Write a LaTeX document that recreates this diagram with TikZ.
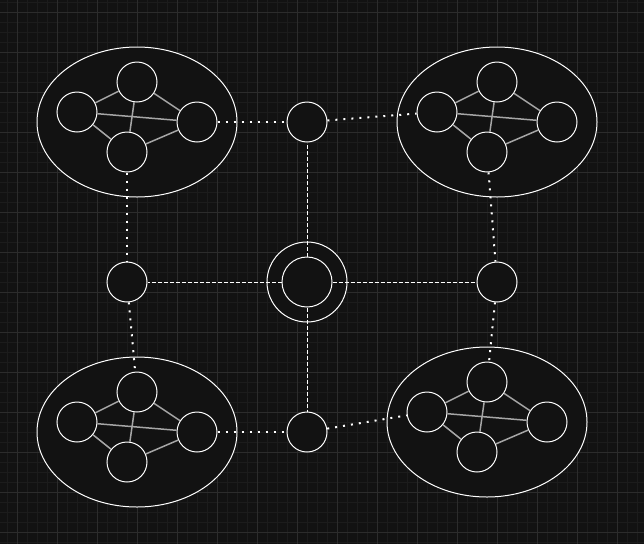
\documentclass[tikz,border=0pt]{standalone}
\usetikzlibrary{shapes}
\definecolor{bgdark}{HTML}{121212}
\definecolor{gridmajor}{HTML}{2C2C2C}
\definecolor{gridminor}{HTML}{1C1C1C}
\definecolor{linkgray}{HTML}{A6A6A6}
\tikzstyle{peer} = [draw=white, fill=bgdark, circle, line width=1pt,
                    minimum size=40pt, inner sep=0pt]
\tikzstyle{group} = [draw=white, fill=bgdark, ellipse, line width=1pt,
                     minimum width=200pt, minimum height=150pt, inner sep=0pt]
\tikzstyle{link} = [draw=linkgray, line width=1.5pt]
\tikzstyle{bridge} = [draw=white, line width=2pt, dash pattern=on 2pt off 6pt]
\tikzstyle{spoke} = [draw=white, line width=1pt, dash pattern=on 4pt off 2pt]
\begin{document}
\begin{tikzpicture}[x=1pt, y=-1pt]
  % background and grid
  \fill[bgdark] (0,0) rectangle (644,544);
  \useasboundingbox (0,0) rectangle (644,544);
  \foreach \x in {7,17,...,637} \draw[gridminor] (\x,0) -- (\x,544);
  \foreach \y in {2,12,...,542} \draw[gridminor] (0,\y) -- (644,\y);
  \foreach \x in {17,57,...,617} \draw[gridmajor] (\x,0) -- (\x,544);
  \foreach \y in {12,52,...,532} \draw[gridmajor] (0,\y) -- (644,\y);

  % four clusters
  \foreach \g/\cx/\cy in {tl/137/122, tr/497/122, bl/137/432, br/487/422} {
    \node[group] (\g) at (\cx,\cy) {};
    \node[peer] (\g a) at (\cx-60,\cy-10) {};
    \node[peer] (\g b) at (\cx,\cy-40) {};
    \node[peer] (\g c) at (\cx+60,\cy) {};
    \node[peer] (\g d) at (\cx-10,\cy+30) {};
    \draw[link] (\g a) -- (\g b);
    \draw[link] (\g b) -- (\g c);
    \draw[link] (\g a) -- (\g c);
    \draw[link] (\g b) -- (\g d);
    \draw[link] (\g a) -- (\g d);
    \draw[link] (\g d) -- (\g c);
  }

  % relays and hub
  \node[peer] (top) at (307,122) {};
  \node[peer] (left) at (127,282) {};
  \node[peer] (right) at (497,282) {};
  \node[peer] (bottom) at (307,432) {};
  \node[peer, minimum size=80pt] (ring) at (307,282) {};
  \node[peer, minimum size=50pt] (hub) at (307,282) {};

  \draw[spoke] (hub) -- (top);
  \draw[spoke] (hub) -- (left);
  \draw[spoke] (hub) -- (right);
  \draw[spoke] (hub) -- (bottom);

  \draw[bridge] (tlc) -- (top);
  \draw[bridge] (top) -- (tra);
  \draw[bridge] (tld) -- (left);
  \draw[bridge] (left) -- (blb);
  \draw[bridge] (trd) -- (right);
  \draw[bridge] (right) -- (brb);
  \draw[bridge] (blc) -- (bottom);
  \draw[bridge] (bottom) -- (bra);
\end{tikzpicture}
\end{document}
